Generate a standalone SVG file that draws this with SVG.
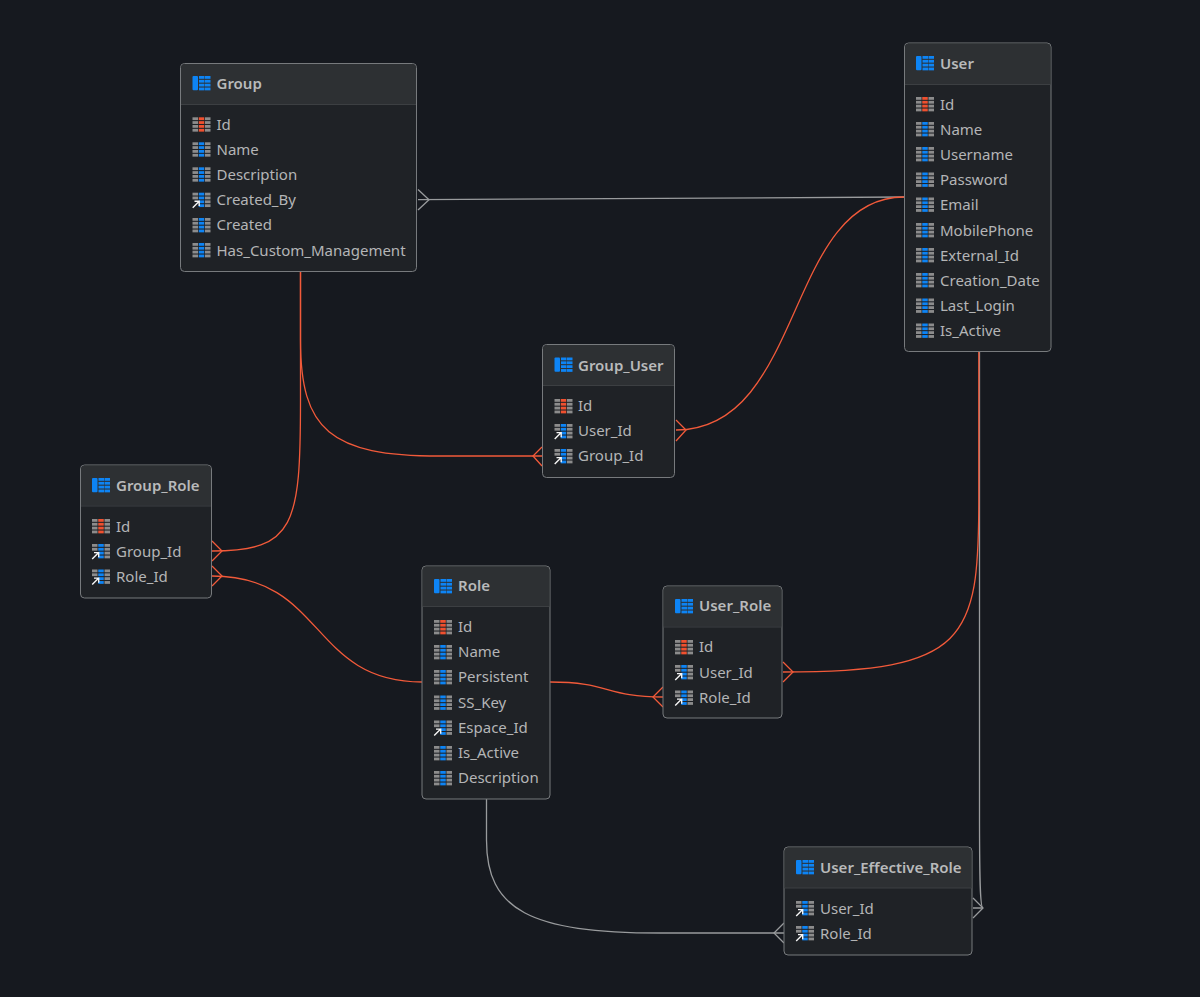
<svg xmlns="http://www.w3.org/2000/svg" xmlns:xlink="http://www.w3.org/1999/xlink" width="1200" height="997" viewBox="0 0 1200 997">
<style>
.box{fill:#1f2226;stroke:#777a7d;stroke-width:1}
.hd{fill:#2d3033}
.sep{stroke:#3c3f42;stroke-width:1}
text{font-family:"Noto Sans","Open Sans","DejaVu Sans",sans-serif;fill:#b4b5b6;font-size:15px}
.t{font-weight:600;fill:#b9babb}
.c{fill:none;stroke-width:1.3}
.o{stroke:#f25a3a}
.g{stroke:#999b9d}
.blue{fill:#0d84f5}
.gray{fill:#8c8c8c}
.red{fill:#f0502f}
.arr{fill:none;stroke:#f5f5f5;stroke-width:1.4}
</style>
<defs>
<g id="rows"><rect x="0" y="0" width="5.5" height="2.8"/><rect x="0" y="3.85" width="5.5" height="2.8"/><rect x="0" y="7.7" width="5.5" height="2.8"/><rect x="0" y="11.55" width="5.5" height="2.8"/></g>
<g id="i-table"><rect class="blue" x="0" y="0" width="5.5" height="14.350" rx="1"/><use class="blue" xlink:href="#rows" x="6.5"/><use class="blue" xlink:href="#rows" x="12.5"/></g>
<g id="i-col"><use class="gray" xlink:href="#rows" x="0"/><use class="blue" xlink:href="#rows" x="6.250"/><use class="gray" xlink:href="#rows" x="12.500"/></g>
<g id="i-pk"><use class="gray" xlink:href="#rows" x="0"/><use class="red" xlink:href="#rows" x="6.250"/><use class="gray" xlink:href="#rows" x="12.500"/></g>
<g id="i-fk"><rect class="gray" x="0" y="0" width="5.5" height="2.8"/><rect class="gray" x="0" y="3.85" width="5.5" height="2.8"/><use class="blue" xlink:href="#rows" x="6.250"/><use class="gray" xlink:href="#rows" x="12.500"/><path d="M0.2,15 L6.2,9 M2,8.6 H6.700 V13.300" class="arr"/></g>
</defs>
<rect width="1200" height="997" fill="#16191f"/>
<g id="connectors">
<path class="c g" d="M418,199.700 L904,197"/>
<path class="c g" d="M418,189.500 L429,199.700 L418,210"/>
<path class="c g" d="M979.500,351 L979.500,810 C979.500,880 980,908 983,908 L973,908"/>
<path class="c g" d="M973,898 L983,908 L973,918"/>
<path class="c g" d="M486.500,799 V840 C486.500,910 530,933 660,933 L784,933"/>
<path class="c g" d="M784,923 L774,933 L784,943"/>
<path class="c o" d="M904,197 C785,197 805,430 676,430"/>
<path class="c o" d="M676,420 L686,430 L676,441"/>
<path class="c o" d="M300.500,271 V340 C300.500,430 330,456 440,456 L542,456"/>
<path class="c o" d="M542,447 L533,456 L542,466"/>
<path class="c o" d="M300.500,271 V400 C300.500,525 295,551 212,551"/>
<path class="c o" d="M212,541 L222,551 L212,561"/>
<path class="c o" d="M212,576 C325,576 310,682 422,682"/>
<path class="c o" d="M212,566 L222,576 L212,586"/>
<path class="c o" d="M550,682 C610,682 605,697 663,697"/>
<path class="c o" d="M663,687 L653,697 L663,707"/>
<path class="c o" d="M978.800,351 V500 C978.800,640 967,672 783,672"/>
<path class="c o" d="M783,662 L793,672 L783,682"/>
</g>
<g id="node-group">
<rect class="box" x="180.500" y="63.500" width="236" height="208" rx="4"/>
<path class="hd" d="M181,104 V68 a4,4 0 0 1 4,-4 H412 a4,4 0 0 1 4,4 V104 Z"/><line class="sep" x1="181" x2="416" y1="104.500" y2="104.500"/>
<use xlink:href="#i-table" x="192.500" y="76"/><text class="t" x="216.500" y="89">Group</text>
<use xlink:href="#i-pk" x="192.500" y="117.300"/><text x="216.500" y="129.500">Id</text>
<use xlink:href="#i-col" x="192.500" y="142.300"/><text x="216.500" y="154.700">Name</text>
<use xlink:href="#i-col" x="192.500" y="167.300"/><text x="216.500" y="179.900">Description</text>
<use xlink:href="#i-fk" x="192.500" y="192.700"/><text x="216.500" y="205.100">Created_By</text>
<use xlink:href="#i-col" x="192.500" y="218"/><text x="216.500" y="230.300">Created</text>
<use xlink:href="#i-col" x="192.500" y="243"/><text x="216.500" y="255.500">Has_Custom_Management</text>
</g>
<g id="node-user">
<rect class="box" x="904.500" y="43" width="146.500" height="308.500" rx="4"/>
<path class="hd" d="M905,84 V47.500 a4,4 0 0 1 4,-4 H1046.500 a4,4 0 0 1 4,4 V84 Z"/><line class="sep" x1="905" x2="1050.500" y1="84.500" y2="84.500"/>
<use xlink:href="#i-table" x="916" y="56"/><text class="t" x="940" y="69">User</text>
<use xlink:href="#i-pk" x="916" y="97"/><text x="940" y="109.500">Id</text>
<use xlink:href="#i-col" x="916" y="122"/><text x="940" y="134.700">Name</text>
<use xlink:href="#i-col" x="916" y="147"/><text x="940" y="159.900">Username</text>
<use xlink:href="#i-col" x="916" y="172.500"/><text x="940" y="185.100">Password</text>
<use xlink:href="#i-col" x="916" y="197.500"/><text x="940" y="210.300">Email</text>
<use xlink:href="#i-col" x="916" y="223"/><text x="940" y="235.500">MobilePhone</text>
<use xlink:href="#i-col" x="916" y="248"/><text x="940" y="260.700">External_Id</text>
<use xlink:href="#i-col" x="916" y="273"/><text x="940" y="285.900">Creation_Date</text>
<use xlink:href="#i-col" x="916" y="298.500"/><text x="940" y="311.100">Last_Login</text>
<use xlink:href="#i-col" x="916" y="323.500"/><text x="940" y="336.300">Is_Active</text>
</g>
<g id="node-group-user">
<rect class="box" x="542.500" y="344.500" width="132" height="133" rx="4"/>
<path class="hd" d="M543,385 V349 a4,4 0 0 1 4,-4 H670 a4,4 0 0 1 4,4 V385 Z"/><line class="sep" x1="543" x2="674" y1="385.500" y2="385.500"/>
<use xlink:href="#i-table" x="554.500" y="357.500"/><text class="t" x="578" y="370.500">Group_User</text>
<use xlink:href="#i-pk" x="554.500" y="399"/><text x="578" y="411">Id</text>
<use xlink:href="#i-fk" x="554.500" y="424"/><text x="578" y="436.200">User_Id</text>
<use xlink:href="#i-fk" x="554.500" y="449"/><text x="578" y="461.400">Group_Id</text>
</g>
<g id="node-group-role">
<rect class="box" x="80.500" y="465" width="131" height="133" rx="4"/>
<path class="hd" d="M81,505.500 V469.500 a4,4 0 0 1 4,-4 H207 a4,4 0 0 1 4,4 V505.500 Z"/><line class="sep" x1="81" x2="211" y1="506" y2="506"/>
<use xlink:href="#i-table" x="92" y="478"/><text class="t" x="116" y="491">Group_Role</text>
<use xlink:href="#i-pk" x="92" y="519"/><text x="116" y="531.500">Id</text>
<use xlink:href="#i-fk" x="92" y="544"/><text x="116" y="556.700">Group_Id</text>
<use xlink:href="#i-fk" x="92" y="569.500"/><text x="116" y="581.900">Role_Id</text>
</g>
<g id="node-role">
<rect class="box" x="422" y="566" width="128" height="233" rx="4"/>
<path class="hd" d="M422.500,606 V570.500 a4,4 0 0 1 4,-4 H545.500 a4,4 0 0 1 4,4 V606 Z"/><line class="sep" x1="422.500" x2="549.500" y1="606.500" y2="606.500"/>
<use xlink:href="#i-table" x="434" y="579"/><text class="t" x="458" y="591">Role</text>
<use xlink:href="#i-pk" x="434" y="620"/><text x="458" y="632">Id</text>
<use xlink:href="#i-col" x="434" y="645"/><text x="458" y="657.200">Name</text>
<use xlink:href="#i-col" x="434" y="670"/><text x="458" y="682.400">Persistent</text>
<use xlink:href="#i-col" x="434" y="695.500"/><text x="458" y="707.600">SS_Key</text>
<use xlink:href="#i-fk" x="434" y="720.500"/><text x="458" y="732.800">Espace_Id</text>
<use xlink:href="#i-col" x="434" y="746"/><text x="458" y="758">Is_Active</text>
<use xlink:href="#i-col" x="434" y="771"/><text x="458" y="783.200">Description</text>
</g>
<g id="node-user-role">
<rect class="box" x="663" y="586" width="119" height="132" rx="4"/>
<path class="hd" d="M663.500,626.500 V590.500 a4,4 0 0 1 4,-4 H777.500 a4,4 0 0 1 4,4 V626.500 Z"/><line class="sep" x1="663.500" x2="781.500" y1="627" y2="627"/>
<use xlink:href="#i-table" x="675" y="599"/><text class="t" x="699" y="611">User_Role</text>
<use xlink:href="#i-pk" x="675" y="640"/><text x="699" y="652.300">Id</text>
<use xlink:href="#i-fk" x="675" y="665"/><text x="699" y="677.500">User_Id</text>
<use xlink:href="#i-fk" x="675" y="690.500"/><text x="699" y="702.700">Role_Id</text>
</g>
<g id="node-user-effective-role">
<rect class="box" x="784" y="847" width="188" height="108" rx="4"/>
<path class="hd" d="M784.500,888 V851.500 a4,4 0 0 1 4,-4 H967.500 a4,4 0 0 1 4,4 V888 Z"/><line class="sep" x1="784.500" x2="971.500" y1="888" y2="888"/>
<use xlink:href="#i-table" x="796" y="860"/><text class="t" x="820" y="873">User_Effective_Role</text>
<use xlink:href="#i-fk" x="796" y="901"/><text x="820" y="913.500">User_Id</text>
<use xlink:href="#i-fk" x="796" y="926"/><text x="820" y="938.700">Role_Id</text>
</g>
</svg>
